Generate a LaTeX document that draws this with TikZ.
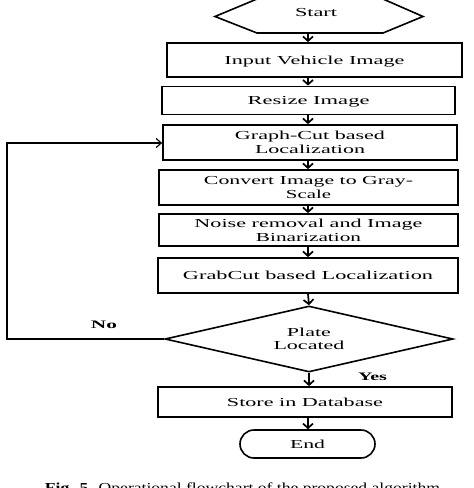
\documentclass[tikz,border=0pt]{standalone}
\usepackage{fontspec}
\setmainfont{Liberation Serif}
\usetikzlibrary{arrows.meta,shapes.geometric,shapes.misc}
% text line scaled to a given width (pt) with a cap height of 8pt
\newcommand{\tx}[2]{\resizebox{#1pt}{8pt}{\smash{#2}\vphantom{H}}}
\newcommand{\tb}[2]{\resizebox{#1pt}{7.5pt}{\smash{\bfseries #2}\vphantom{H}}}
\begin{document}
\begin{tikzpicture}[x=1pt,y=-1pt,
  box/.style={draw,line width=1.8pt,minimum width=#1,inner sep=0pt,align=center,font=\fontsize{12}{14}\selectfont},
  flow/.style={line width=1.7pt,-{Straight Barb[length=4.5pt,width=10pt,line width=1.7pt]}},
  loop/.style={line width=1.4pt,-{Straight Barb[length=5pt,width=9pt,line width=1.2pt]}},
  lbl/.style={inner sep=0pt,anchor=base}]
\clip (0,0) rectangle (474,488);
\useasboundingbox (0,0) rectangle (474,488);
% start hexagon
\draw[line width=1.6pt] (215,16.5) -- (257,-1) -- (383,-1) -- (423,16.5) -- (383,33) -- (257,33) -- cycle;
\node[inner sep=0pt,font=\fontsize{12}{14}\selectfont] (start) at (316,12.5) {\tx{42}{Start}};
\coordinate (startb) at (308,33);
\node[box=295pt,minimum height=34pt] (input) at (314.5,60) {\tx{180}{Input Vehicle Image}};
\node[box=293pt,minimum height=28pt] (resize) at (308.5,100.5) {\tx{122}{Resize Image}};
\node[box=294pt,minimum height=35pt] (graph) at (310,142.5) {\tx{150}{Graph-Cut based}\\\tx{110}{Localization}};
\node[box=299pt,minimum height=35pt] (convert) at (308.5,187.5) {\tx{209}{Convert Image to Gray-}\\\tx{45}{Scale}};
\node[box=299pt,minimum height=32pt] (noise) at (308.5,230) {\tx{228}{Noise removal and Image}\\\tx{105}{Binarization}};
\node[box=300pt,minimum height=35pt] (grab) at (308,275.5) {\tx{250}{GrabCut based Localization}};
\node[draw,diamond,aspect=4.36,line width=1.6pt,inner sep=0pt,minimum width=288pt,minimum height=66pt,align=center,font=\fontsize{12}{13.5}\selectfont] (dec) at (309,339) {\tx{44}{Plate}\\\tx{71}{Located}};
\node[box=294pt,minimum height=30pt] (store) at (305,402) {\tx{156}{Store in Database}};
\node[draw,rounded rectangle,line width=1.6pt,minimum width=135pt,minimum height=28pt,inner sep=0pt,font=\fontsize{12}{14}\selectfont] (end) at (307.5,444) {\tx{35}{End}};
% arrows
\draw[flow] (startb) -- (startb |- input.north);
\draw[flow] (input.south -| 308,0) -- (resize.north -| 308,0);
\draw[flow] (resize.south -| 308,0) -- (graph.north -| 308,0);
\draw[flow] (graph.south -| 308,0) -- (convert.north -| 308,0);
\draw[flow] (convert.south -| 308,0) -- (noise.north -| 308,0);
\draw[flow] (noise.south -| 308,0) -- (grab.north -| 308,0);
\draw[flow] (grab.south -| 308,0) -- (dec.north);
\draw[flow] (dec.south) -- (store.north -| dec.south);
\draw[flow] (store.south -| 308,0) -- (end.north -| 308,0);
\coordinate (c1) at (7,339);
\coordinate (c2) at (7,143);
\draw[loop] (dec.west) -- (c1) -- (c2) -- (graph.west |- c2);
\node[lbl] (no) at (104,328) {\tb{26}{No}};
\node[lbl] (yes) at (372.5,380) {\tb{29}{Yes}};
\node[lbl] (cap) at (242.5,492) {\resizebox{395pt}{9pt}{\smash{\textbf{Fig. 5.} Operational flowchart of the proposed algorithm}\vphantom{H}}};
\end{tikzpicture}
\end{document}
